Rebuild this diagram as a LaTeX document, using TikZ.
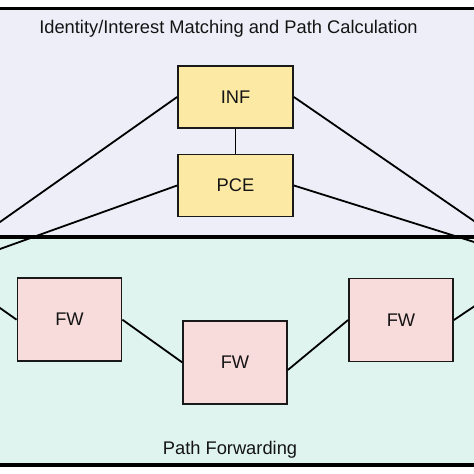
\documentclass[tikz,border=0pt]{standalone}
\usepackage{fontspec}
\setmainfont{Liberation Sans}
\usetikzlibrary{calc}
\definecolor{lav}{HTML}{EEEEF9}
\definecolor{mint}{HTML}{DFF4EF}
\definecolor{boxyellow}{HTML}{FCE9A4}
\definecolor{boxpink}{HTML}{F8DCDC}
\definecolor{txt}{HTML}{141414}
\begin{document}
\begin{tikzpicture}[x=1bp,y=-1bp,
  lbl/.style={font=\fontsize{18.3bp}{21bp}\selectfont, text=txt},
  ctrlbox/.style={draw=black!90, line width=1.8bp, fill=boxyellow, minimum width=115bp, minimum height=62bp, inner sep=0pt, lbl},
  fwbox/.style={draw=black!90, line width=1.8bp, fill=boxpink, minimum width=104bp, minimum height=83bp, inner sep=0pt, lbl},
  conn/.style={draw=black, line width=1.8bp},
  sep/.style={draw=black, line width=3.6bp}]
\useasboundingbox (0,0) rectangle (474,474);
\begin{scope}
\clip (0,0) rectangle (474,474);
\fill[lav] (-10,9) rectangle (484,237);
\fill[mint] (-10,237) rectangle (484,465);

\node[lbl] (title) at (228.5,28.5) {Identity/Interest Matching and Path Calculation};
\node[lbl] (pf) at (230,450) {Path Forwarding};

\node[ctrlbox] (inf) at (235.5,97) {INF};
\node[ctrlbox] (pce) at (235.5,185.5) {PCE};
\node[fwbox] (fw1) at (69.5,319.7) {FW};
\node[fwbox] (fw2) at (235,362.3) {FW};
\node[fwbox] (fw3) at (401,320) {FW};

\coordinate (l1) at (-2,223.4);
\coordinate (l2) at (-2,249.7);
\coordinate (r1) at (476,222.4);
\coordinate (r2) at (476,242.6);
\coordinate (l3) at (-2,306.6);
\coordinate (r3) at (476,305.2);

\draw[conn] (inf) -- (pce);
\draw[conn] (inf.west) -- (l1);
\draw[conn] (pce.west) -- (l2);
\draw[conn] (inf.east) -- (r1);
\draw[conn] (pce.east) -- (r2);
\draw[conn] (fw1.west) -- (l3);
\draw[conn] (fw1.east) -- (fw2.west);
\draw[conn] ($(fw2.south east)!0.41!(fw2.north east)$) -- (fw3.west);
\draw[conn] (fw3.east) -- (r3);

\coordinate (s1a) at (-10,9);
\coordinate (s1b) at (484,9);
\coordinate (s2a) at (-10,237);
\coordinate (s2b) at (484,237);
\coordinate (s3a) at (-10,465);
\coordinate (s3b) at (484,465);
\draw[sep, line width=3bp] (s1a) -- (s1b);
\draw[sep] (s2a) -- (s2b);
\draw[sep, line width=4bp] (s3a) -- (s3b);
\end{scope}
\end{tikzpicture}
\end{document}
